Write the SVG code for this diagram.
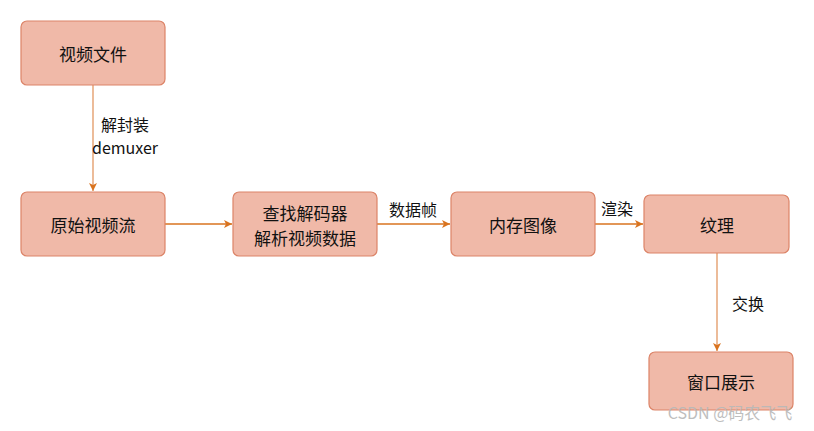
<svg xmlns="http://www.w3.org/2000/svg" width="814" height="431" viewBox="0 0 814 431">
<style>
.box{fill:#f0b9a8;stroke:#dc8468;stroke-width:1.2}
text{font-family:"Noto Sans CJK SC",sans-serif;fill:#111;text-anchor:middle;dominant-baseline:central}
.t{font-size:17px}
.l{font-size:16px}
.h{stroke:#d9731f;stroke-width:1.3;fill:none}
.v{stroke:#e8ab80;stroke-width:1.6;fill:none}
</style>
<defs>
<marker id="a" markerWidth="10" markerHeight="10" refX="8" refY="5" orient="auto" markerUnits="userSpaceOnUse">
<path d="M0,1 L8,5 L0,9 L2,5 Z" fill="#d9731f"/>
</marker>
</defs>
<rect width="814" height="431" fill="#fff"/>
<g id="connectors">
<path class="v" d="M93,85 V191" marker-end="url(#a)"/>
<path class="h" d="M165,224 H232" marker-end="url(#a)"/>
<path class="h" d="M377,224 H450" marker-end="url(#a)"/>
<path class="h" d="M595,224 H643" marker-end="url(#a)"/>
<path class="v" d="M717,253 V351" marker-end="url(#a)"/>
<text class="l" x="125" y="124">解封装</text>
<text class="l" x="125" y="147">demuxer</text>
<text class="l" x="413" y="209">数据帧</text>
<text class="l" x="617" y="208">渲染</text>
<text class="l" x="748" y="303">交换</text>
</g>
<g id="n1"><rect class="box" x="21" y="21" width="144" height="64" rx="6"/><text class="t" x="93" y="53">视频文件</text></g>
<g id="n2"><rect class="box" x="21" y="192" width="144" height="64" rx="6"/><text class="t" x="93" y="224">原始视频流</text></g>
<g id="n3"><rect class="box" x="233" y="192" width="144" height="64" rx="6"/><text class="t" x="305" y="212.5">查找解码器</text><text class="t" x="305" y="237">解析视频数据</text></g>
<g id="n4"><rect class="box" x="451" y="192" width="144" height="64" rx="6"/><text class="t" x="523" y="224">内存图像</text></g>
<g id="n5"><rect class="box" x="644" y="195" width="145" height="58" rx="6"/><text class="t" x="717" y="224">纹理</text></g>
<g id="n6"><rect class="box" x="649" y="352" width="144" height="58" rx="6"/><text class="t" x="721" y="381">窗口展示</text></g>
<text x="730" y="412" style="font-size:16px;fill:#b8b8b8;opacity:0.9">CSDN @码农飞飞</text>
</svg>
